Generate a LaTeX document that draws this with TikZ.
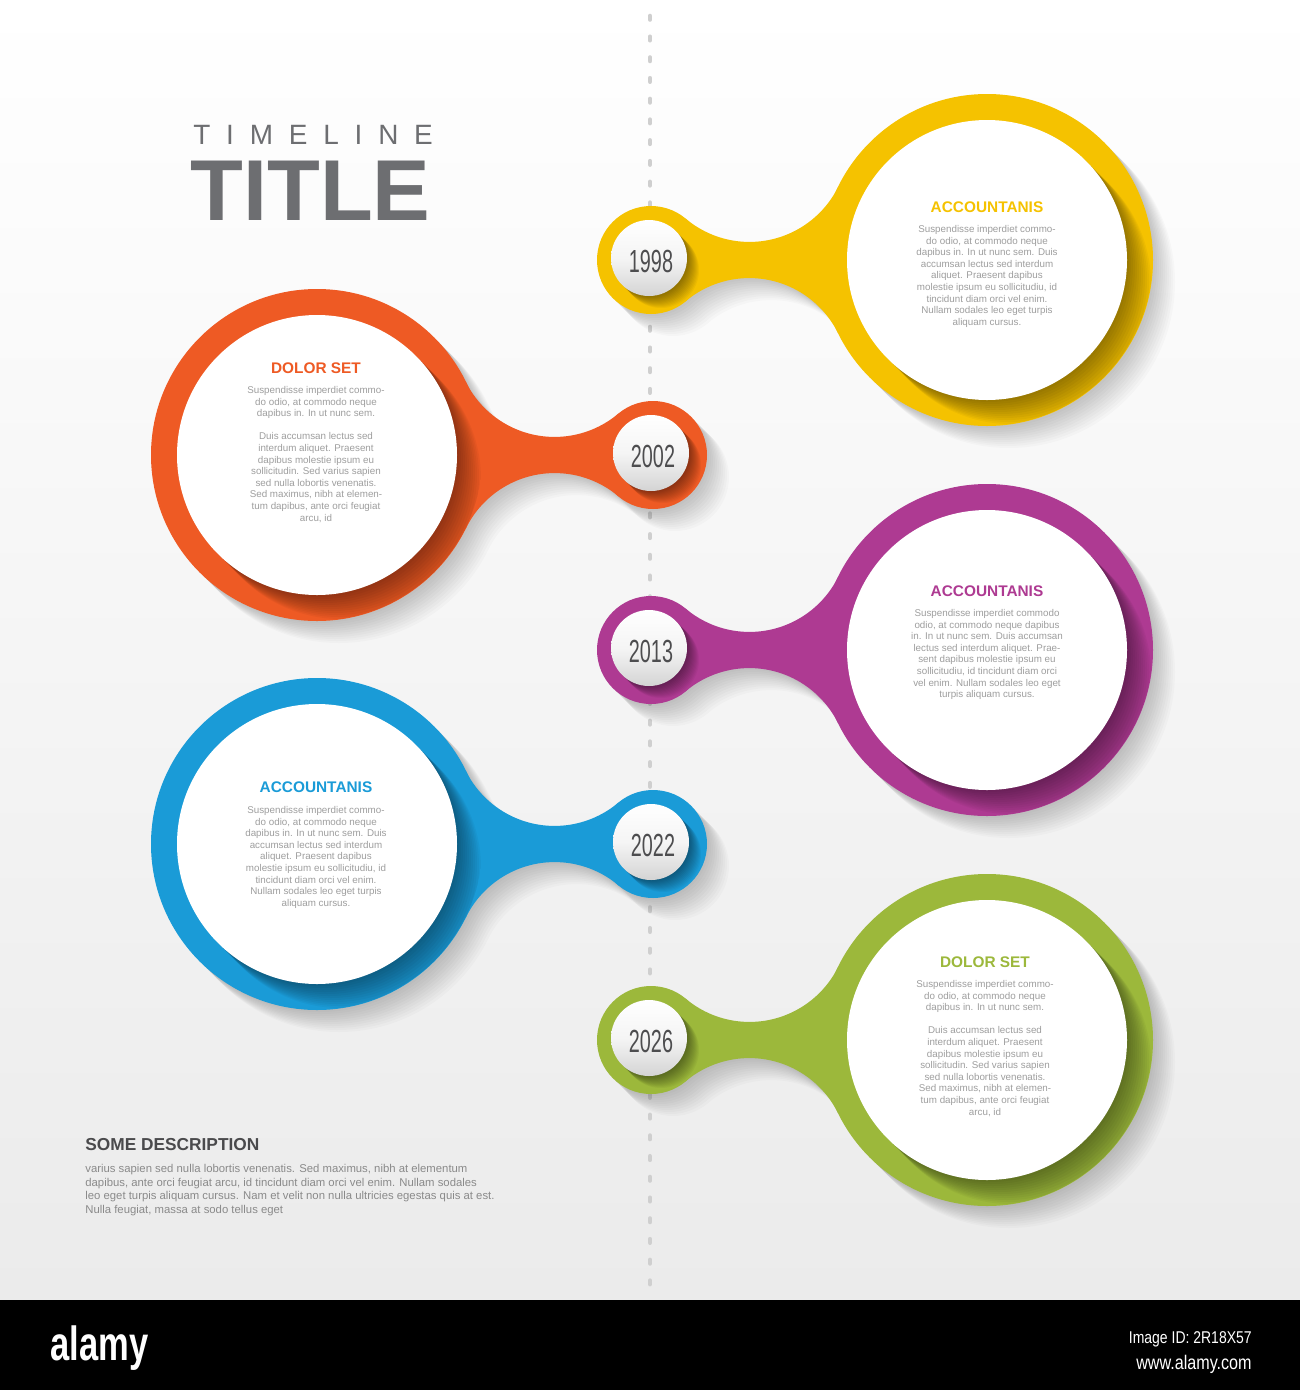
\documentclass[tikz,border=0pt]{standalone}
\usepackage{fontspec}
\setmainfont{Liberation Sans}
\newfontfamily\yearfont[FakeStretch=0.62]{Liberation Sans}
\newfontfamily\condfont[FakeStretch=0.82]{Liberation Sans}
\newfontfamily\alamyfont[FakeStretch=0.72]{Liberation Sans}
\definecolor{cyellow}{HTML}{F5C200}
\definecolor{corange}{HTML}{EE5A24}
\definecolor{cpurple}{HTML}{AE3A92}
\definecolor{cblue}{HTML}{1A9BD7}
\definecolor{cgreen}{HTML}{9CB83B}
\definecolor{titlegray}{HTML}{6D6E71}
\definecolor{yeargray}{HTML}{4D4D4F}
\definecolor{bodygray}{HTML}{9E9E9E}
\definecolor{descgray}{HTML}{4A4A4C}
\definecolor{descbody}{HTML}{8A8A8A}
\definecolor{bgbot}{HTML}{EBEBEB}
\definecolor{dashgray}{HTML}{CFCFCF}
\newcommand\ls{\kern 9pt}
% blob: small circle r=54 at (sx,sy), big circle r=166 at (sx+d*336,sy),
% joined by circular fillets of radius 99 (waist half-width 18)
\newcommand\blobfill[4]{%
 \fill[#1] (#2,#3) circle[radius=54];
 \fill[#1] ({#2+#4*336},#3) circle[radius=166];
 \fill[#1] (#2,#3) -- ({#2+#4*34.75},{#3-41.3})
   arc[start angle={90+#4*40.06}, end angle={90-#4*63.77}, radius=99]
   -- ({#2+#4*336},#3) -- ({#2+#4*187.1},{#3+73.3})
   arc[start angle={90-#4*116.23}, end angle={90-#4*220.06}, radius=99]
   -- cycle;
}
\newcommand\tlitem[5]{%
 \pgfmathsetmacro\bx{#2+#4*336}
 \foreach \k in {2,4,...,22} {
   \begin{scope}[shift={(\k,\k)}, transparency group, opacity=0.018]
     \blobfill{black}{#2}{#3}{#4}
   \end{scope}
 }
 \blobfill{#1}{#2}{#3}{#4}
 \begin{scope}
   \clip (\bx,#3) circle[radius=165.5];
   \foreach \k in {2,4,...,24} \fill[black, opacity=0.035] ({\bx+\k},{#3+\k}) circle[radius=140];
 \end{scope}
 \fill[white] (\bx,#3) circle[radius=140];
 \begin{scope}
   \clip (#2,#3) circle[radius=53.5];
   \foreach \k in {1,2,...,12} \fill[black, opacity=0.04] ({#2-2+\k},{#3-2+\k}) circle[radius=38];
 \end{scope}
 \shade[top color=white, bottom color=black!17, middle color=white!96!black] ({#2-2},{#3-2}) circle[radius=38];
 \node[yeartext] (y#5) at ({#2},{#3+1}) {#5};
}
\tikzset{
 cbody/.style={inner sep=0, align=center, anchor=north, text=bodygray, font=\fontsize{5.58}{6.6}\selectfont},
 ctitle/.style={inner sep=0, font=\bfseries\fontsize{8.76}{10}\selectfont},
 yeartext/.style={inner sep=0, text=yeargray, font=\yearfont\fontsize{18.2}{20}\selectfont},
 dashline/.style={dashgray, line width=2.6pt, line cap=round, dash pattern=on 2pt off 9.8pt},
}
\begin{document}
\begin{tikzpicture}[x=0.02cm, y=-0.02cm]
\useasboundingbox (0,0) rectangle (1300,1390);
\shade[top color=white, bottom color=bgbot] (0,0) rectangle (1300,1300);
\coordinate (dtop) at (650,16);
\coordinate (dbot) at (650,1290);
\draw[dashline] (dtop) -- (dbot);

\node[anchor=west, inner sep=0, text=titlegray, font=\fontsize{15.9}{18}\selectfont] (tl) at (193,135) {T\ls I\ls M\ls E\ls L\ls I\ls N\ls E};
\node[anchor=west, inner sep=0, text=titlegray, font=\bfseries\fontsize{49.2}{51}\selectfont] (tt) at (190,191) {TITLE};

\tlitem{cyellow}{651}{260}{1}{1998}
\tlitem{corange}{653}{455}{(-1)}{2002}
\tlitem{cpurple}{651}{650}{1}{2013}
\tlitem{cblue}{653}{844}{(-1)}{2022}
\tlitem{cgreen}{651}{1040}{1}{2026}

\node[ctitle, text=cyellow] (h1) at (987,207) {ACCOUNTANIS};
\node[cbody] (b1) at (987,225) {Suspendisse imperdiet commo-\\do odio, at commodo neque\\dapibus in. In ut nunc sem. Duis\\accumsan lectus sed interdum\\aliquet. Praesent dapibus\\molestie ipsum eu sollicitudiu, id\\tincidunt diam orci vel enim.\\Nullam sodales leo eget turpis\\aliquam cursus.};

\node[ctitle, text=corange] (h2) at (316,368) {DOLOR SET};
\node[cbody] (b2) at (316,386) {Suspendisse imperdiet commo-\\do odio, at commodo neque\\dapibus in. In ut nunc sem.\\[6.6pt]Duis accumsan lectus sed\\interdum aliquet. Praesent\\dapibus molestie ipsum eu\\sollicitudin. Sed varius sapien\\sed nulla lobortis venenatis.\\Sed maximus, nibh at elemen-\\tum dapibus, ante orci feugiat\\arcu, id};

\node[ctitle, text=cpurple] (h3) at (987,591) {ACCOUNTANIS};
\node[cbody] (b3) at (987,609) {Suspendisse imperdiet commodo\\odio, at commodo neque dapibus\\in. In ut nunc sem. Duis accumsan\\lectus sed interdum aliquet. Prae-\\sent dapibus molestie ipsum eu\\sollicitudiu, id tincidunt diam orci\\vel enim. Nullam sodales leo eget\\turpis aliquam cursus.};

\node[ctitle, text=cblue] (h4) at (316,787) {ACCOUNTANIS};
\node[cbody] (b4) at (316,806) {Suspendisse imperdiet commo-\\do odio, at commodo neque\\dapibus in. In ut nunc sem. Duis\\accumsan lectus sed interdum\\aliquet. Praesent dapibus\\molestie ipsum eu sollicitudiu, id\\tincidunt diam orci vel enim.\\Nullam sodales leo eget turpis\\aliquam cursus.};

\node[ctitle, text=cgreen] (h5) at (985,962) {DOLOR SET};
\node[cbody] (b5) at (985,980) {Suspendisse imperdiet commo-\\do odio, at commodo neque\\dapibus in. In ut nunc sem.\\[6.6pt]Duis accumsan lectus sed\\interdum aliquet. Praesent\\dapibus molestie ipsum eu\\sollicitudin. Sed varius sapien\\sed nulla lobortis venenatis.\\Sed maximus, nibh at elemen-\\tum dapibus, ante orci feugiat\\arcu, id};

\node[anchor=west, inner sep=0, text=descgray, font=\bfseries\fontsize{9.85}{11}\selectfont] (dt) at (85,1145) {SOME DESCRIPTION};
\node[anchor=north west, inner sep=0, align=left, text=descbody, font=\fontsize{6.45}{7.75}\selectfont] (db) at (85,1164) {varius sapien sed nulla lobortis venenatis. Sed maximus, nibh at elementum\\dapibus, ante orci feugiat arcu, id tincidunt diam orci vel enim. Nullam sodales\\leo eget turpis aliquam cursus. Nam et velit non nulla ultricies egestas quis at est.\\Nulla feugiat, massa at sodo tellus eget};

\fill[black] (0,1300) rectangle (1300,1390);
\node[anchor=base west, inner sep=0, text=white, font=\alamyfont\bfseries\fontsize{27.3}{30}\selectfont] (al) at (50,1360) {alamy};
\node[anchor=east, inner sep=0, text=white, font=\condfont\fontsize{9.7}{11}\selectfont] (id) at (1252,1339) {Image ID: 2R18X57};
\node[anchor=east, inner sep=0, text=white, font=\condfont\fontsize{11.2}{13}\selectfont] (www) at (1252,1364) {www.alamy.com};
\end{tikzpicture}
\end{document}
